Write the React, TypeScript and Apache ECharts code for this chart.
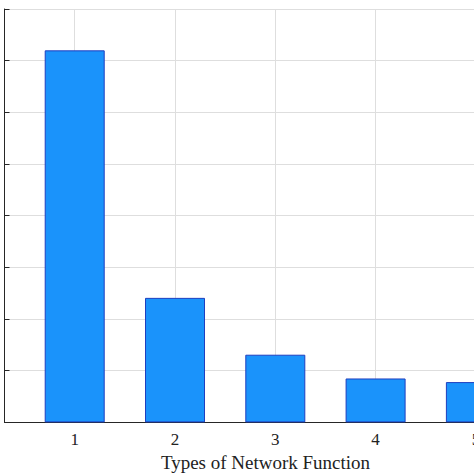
import * as echarts from 'echarts';
import { useEffect, useRef } from 'react';

// positions of the network function types on the x axis
const functionTypes = [1, 2, 3, 4, 5];
// bar heights (y labels are cropped away in the reference, so the scale is relative)
const counts = [72, 24.1, 13.1, 8.5, 7.8];
const xTickValues = [1, 2, 3, 4, 5];
const xTitle = 'Types of Network Function';

const App = () => {
  const chartRef = useRef<HTMLDivElement>(null);

  useEffect(() => {
    if (chartRef.current === null) return;
    const chart = echarts.init(chartRef.current, null, { renderer: 'svg' });

    const axisColor = '#262626';
    const gridColor = '#dedede';
    const serif = '"Liberation Serif", "Times New Roman", serif';

    const options = {
      animation: false,
      // the plot runs past the right edge of the picture, so the chart div is wider than the view
      grid: { left: 4.5, right: 13.9, top: 9, bottom: 51.6, containLabel: false },
      xAxis: {
        type: 'value',
        min: 0.3,
        max: 5.7,
        axisLine: { show: true, lineStyle: { color: axisColor, width: 1 } },
        axisTick: {
          show: true,
          inside: true,
          length: 5,
          customValues: xTickValues,
          lineStyle: { color: axisColor },
        },
        axisLabel: {
          customValues: xTickValues,
          margin: 9,
          color: '#222',
          fontFamily: serif,
          fontSize: 17,
        },
        splitLine: { show: true, lineStyle: { color: gridColor, width: 1 } },
      },
      yAxis: {
        type: 'value',
        min: 0,
        max: 80,
        interval: 10,
        axisLine: { show: true, lineStyle: { color: axisColor, width: 1 } },
        axisTick: { show: true, inside: true, length: 5, lineStyle: { color: axisColor } },
        axisLabel: { show: false },
        splitLine: { show: true, lineStyle: { color: gridColor, width: 1 } },
      },
      graphic: [
        {
          type: 'text',
          x: 265.5,
          y: 462.5,
          style: {
            text: xTitle,
            fill: '#222',
            font: `19px ${serif}`,
            align: 'center',
            verticalAlign: 'middle',
          },
        },
      ],
      series: [
        {
          type: 'bar',
          barWidth: 60,
          data: functionTypes.map((t, i) => [t, counts[i]]),
          itemStyle: { color: '#1a93fb', borderColor: '#1f3fbf', borderWidth: 1 },
        },
      ],
    };

    chart.setOption(options);

    return () => {
      chart.dispose();
    };
  }, []);

  return (
    <div
      style={{
        position: 'fixed',
        left: 0,
        top: 0,
        width: 474,
        height: 474,
        overflow: 'hidden',
        background: '#fff',
      }}
    >
      <div ref={chartRef} style={{ width: 560, height: 474 }}></div>
    </div>
  );
};

export default App;
